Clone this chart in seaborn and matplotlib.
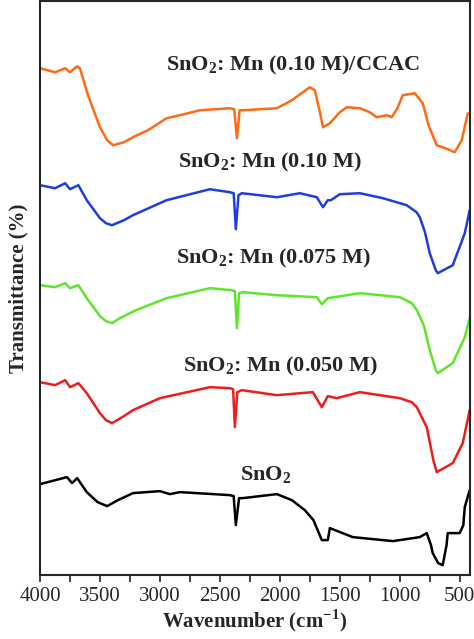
import matplotlib
matplotlib.use("Agg")
import matplotlib.pyplot as plt
import seaborn as sns
import pandas as pd
from matplotlib.ticker import MultipleLocator

sns.set_style("ticks")
plt.rcParams['font.family'] = ['Liberation Serif', 'DejaVu Serif']
plt.rcParams['mathtext.fontset'] = 'custom'
plt.rcParams['mathtext.rm'] = 'Liberation Serif:bold'
plt.rcParams['mathtext.bf'] = 'Liberation Serif:bold'

# wavenumber (cm-1) and offset transmittance (arbitrary, stacked)
w_ccac = [4000,3875,3790,3750,3690,3667,3600,3500,3440,3390,3300,3225,3100,2945,2800,2667,2417,2380,2358,2335,2308,2025,1900,1750,1708,1670,1640,1583,1500,1442,1333,1250,1192,1108,1067,1020,975,875,808,760,692,620,542,483,433]
t_ccac = [68,72,68,72,66,68,95,127,140,145,142,137,130,118,114,110,108,109,138,110,110,108,100,87,90,110,127,123,112,107,108,112,117,115,117,108,95,93,103,125,145,148,152,140,113]
w_m10 = [4000,3875,3790,3750,3680,3610,3500,3450,3400,3300,3225,2945,2583,2417,2385,2367,2345,2317,2025,1833,1692,1640,1600,1575,1500,1333,1140,942,860,833,790,750,700,683,558,458,417]
t_m10 = [185,188,183,189,185,200,218,223,225,220,215,200,189,192,193,229,195,193,197,193,197,207,200,200,194,193,198,205,212,217,232,253,270,273,265,233,210]
w_m075 = [4000,3875,3790,3750,3680,3610,3500,3450,3400,3333,3200,2945,2583,2400,2375,2358,2340,2308,2025,1692,1650,1600,1333,1000,900,858,800,750,700,683,558,458,417]
t_m075 = [285,287,283,288,285,298,316,321,323,318,310,298,288,290,291,328,293,292,295,297,304,298,293,297,303,310,325,350,370,373,363,337,318]
w_m050 = [4000,3875,3790,3750,3680,3610,3500,3450,3400,3300,3225,3000,2583,2417,2390,2375,2355,2317,2025,1725,1650,1600,1525,1333,1000,900,858,775,720,692,558,475,417]
t_m050 = [382,385,380,387,383,393,413,420,423,416,410,398,387,388,389,427,392,390,395,392,407,396,398,392,398,402,407,427,460,472,463,443,410]
w_sno2 = [4000,3775,3733,3690,3610,3520,3440,3350,3225,3000,2917,2833,2417,2385,2367,2340,2308,2025,1900,1792,1720,1650,1600,1583,1392,1058,833,775,740,725,680,642,610,600,500,470,458,417]
t_sno2 = [484,477,483,478,492,502,506,500,493,491,494,492,495,496,525,498,498,494,500,510,520,540,540,528,537,541,537,533,545,553,563,565,545,533,533,525,507,490]

series = [
    (w_ccac, t_ccac, '#ff6a13'),
    (w_m10, t_m10, '#1f3de0'),
    (w_m075, t_m075, '#5ee62a'),
    (w_m050, t_m050, '#ee1c1c'),
    (w_sno2, t_sno2, '#000000'),
]
labels = [r'SnO$_2$: Mn (0.10 M)/CCAC', r'SnO$_2$: Mn (0.10 M)', r'SnO$_2$: Mn (0.075 M)',
          r'SnO$_2$: Mn (0.050 M)', r'SnO$_2$']
label_pos = [(1890, 65), (2080, 162), (2055, 258), (1995, 366), (2120, 475)]

fig = plt.figure(figsize=(4.74, 6.39), dpi=100)
ax = fig.add_axes([0.0844, 0.1, 0.907, 0.898])
for w, t, c in series:
    df = pd.DataFrame({'w': w, 't': [-v for v in t]})
    sns.lineplot(data=df, x='w', y='t', sort=False, color=c, lw=1.8, ax=ax)
for lab, (x, y) in zip(labels, label_pos):
    ax.text(x, -y, lab, ha='center', va='center', fontsize=16, fontweight='bold')

ax.set_xlim(4000, 415)
ax.set_ylim(-575, -1)
ax.set_yticks([])
ax.xaxis.set_major_locator(MultipleLocator(500))
ax.xaxis.set_minor_locator(MultipleLocator(250))
ax.tick_params(axis='x', which='both', length=5, width=1.2, labelsize=15, direction='out')
for s in ax.spines.values():
    s.set_linewidth(1.5)
    s.set_visible(True)
ax.set_xlabel(r'Wavenumber (cm$^{-1}$)', fontsize=15, fontweight='bold', labelpad=1)
ax.set_ylabel('Transmittance (%)', fontsize=15, fontweight='bold', labelpad=8)
fig.savefig('out.png', dpi=100)
